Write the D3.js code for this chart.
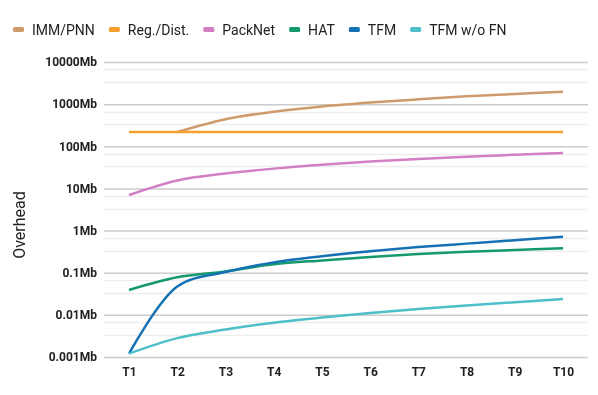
<!DOCTYPE html>
<head>
  <meta charset="utf-8">
  <script src="https://d3js.org/d3.v7.min.js"></script>
  <style>
    body {
      margin:0;position:fixed;top:0;right:0;bottom:0;left:0;
      font-family: Roboto, sans-serif;
      background: #fff;
    }
  </style>
</head>

<body>
  <script>
    var width = 598, height = 395;

    var tasks = ["T1", "T2", "T3", "T4", "T5", "T6", "T7", "T8", "T9", "T10"];
    var seriesNames = ["IMM/PNN", "Reg./Dist.", "PackNet", "HAT", "TFM", "TFM w/o FN"];
    var seriesColors = ["#cf9a6c", "#f59f2c", "#d37fc6", "#13996d", "#1671b4", "#4dbfc9"];

    // overhead in Mb per task
    var immPnn   = [null, 218, 440, 660, 880, 1090, 1300, 1530, 1750, 1980];
    var regDist  = [218, 218, 218, 218, 218, 218, 218, 218, 218, 218];
    var packNet  = [7, 15.5, 22.5, 29.5, 36.5, 43.5, 50, 56.5, 63, 69.5];
    var hat      = [0.039, 0.078, 0.107, 0.158, 0.196, 0.236, 0.277, 0.313, 0.344, 0.383];
    var tfm      = [0.0012, 0.047, 0.104, 0.176, 0.245, 0.322, 0.405, 0.49, 0.59, 0.71];
    var tfmNoFn  = [0.0012, 0.0028, 0.0045, 0.0065, 0.0086, 0.011, 0.0137, 0.0166, 0.0199, 0.0237];

    var yTicks = [0.001, 0.01, 0.1, 1, 10, 100, 1000, 10000];
    var yTickLabels = ["0.001Mb", "0.01Mb", "0.1Mb", "1Mb", "10Mb", "100Mb", "1000Mb", "10000Mb"];

    var allSeries = [immPnn, regDist, packNet, hat, tfm, tfmNoFn];

    var svg = d3.select("body").append("svg")
      .attr("width", width)
      .attr("height", height);

    var x = d3.scalePoint()
      .domain(tasks)
      .range([129, 563]);

    var y = d3.scaleLog()
      .domain([0.001, 10000])
      .range([357, 62]);

    var gridLeft = 104, gridRight = 588;

    // minor gridlines at 1/3 and 2/3 of every decade
    var minor = [];
    yTicks.slice(1).forEach(function(t) { minor.push(t / 3, t * 2 / 3); });

    svg.append("g")
      .selectAll("line")
      .data(minor)
      .enter().append("line")
      .attr("x1", gridLeft).attr("x2", gridRight)
      .attr("y1", function(d) { return Math.round(y(d)) + 0.5; })
      .attr("y2", function(d) { return Math.round(y(d)) + 0.5; })
      .attr("stroke", "#ededed")
      .attr("stroke-width", 1.5);

    var yaxis = d3.axisLeft(y)
      .tickValues(yTicks)
      .tickSize(gridLeft - gridRight)
      .tickFormat(function(d, i) { return yTickLabels[i]; });

    var gy = svg.append("g")
      .attr("transform", "translate(" + gridLeft + ",0)")
      .call(yaxis);
    gy.select(".domain").remove();
    gy.selectAll(".tick line")
      .attr("stroke", "#cccccc")
      .attr("stroke-width", 1.5);
    gy.selectAll(".tick text")
      .attr("x", -7)
      .attr("fill", "#212121")
      .style("font-family", "Roboto, sans-serif")
      .style("font-weight", "bold")
      .style("font-size", "12px");

    var xaxis = d3.axisBottom(x).tickSize(0).tickPadding(0);
    var gx = svg.append("g")
      .attr("transform", "translate(0,367)")
      .call(xaxis);
    gx.select(".domain").remove();
    gx.selectAll(".tick text")
      .attr("y", 0)
      .attr("dy", "0.71em")
      .attr("fill", "#212121")
      .style("font-family", "Roboto, sans-serif")
      .style("font-weight", "bold")
      .style("font-size", "12px");

    svg.append("text")
      .text("Overhead")
      .attr("text-anchor", "middle")
      .attr("transform", "translate(25,225) rotate(-90)")
      .attr("fill", "#222")
      .style("font-size", "16px");

    var line = d3.line()
      .defined(function(d) { return d != null; })
      .x(function(d, i) { return x(tasks[i]); })
      .y(function(d) { return y(d); })
      .curve(d3.curveCatmullRom);

    svg.append("g")
      .selectAll("path")
      .data(allSeries)
      .enter().append("path")
      .attr("d", line)
      .attr("fill", "none")
      .attr("stroke", function(d, i) { return seriesColors[i]; })
      .attr("stroke-width", 2.5);

    // legend
    var lg = svg.append("g");
    var lx = 13;
    seriesNames.forEach(function(name, i) {
      lg.append("rect")
        .attr("x", lx).attr("y", 27)
        .attr("width", 11).attr("height", 5)
        .attr("rx", 1.5)
        .attr("fill", seriesColors[i]);
      var t = lg.append("text")
        .text(name)
        .attr("x", lx + 19)
        .attr("y", 34.5)
        .attr("fill", "#222")
        .style("font-size", "14px");
      lx += 19 + t.node().getComputedTextLength() + 14;
    });
  </script>
</body>
